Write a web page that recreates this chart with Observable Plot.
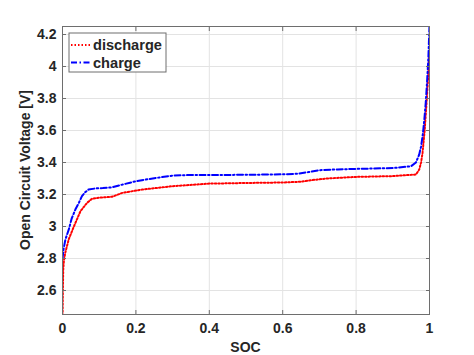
<!DOCTYPE html>
<html><head><meta charset="utf-8">
<script src="https://cdn.jsdelivr.net/npm/d3@7"></script>
<script src="https://cdn.jsdelivr.net/npm/@observablehq/plot@0.6"></script>
<style>body{margin:0;background:#fff}</style>
</head><body><div id="chart"></div>
<script>
const chargeSoc = [0,0.003,0.008,0.017,0.025,0.035,0.045,0.053,0.062,0.071,0.09,0.11,0.135,0.16,0.2,0.25,0.3,0.35,0.4,0.5,0.6,0.64,0.67,0.7,0.75,0.8,0.9,0.95,0.963,0.972,0.977,0.982,0.986,0.99,0.994,0.997,1.0];
const chargeV = [2.80,2.86,2.92,2.98,3.05,3.106,3.15,3.19,3.215,3.231,3.238,3.24,3.245,3.26,3.283,3.302,3.318,3.322,3.322,3.323,3.326,3.33,3.34,3.352,3.357,3.36,3.365,3.377,3.40,3.45,3.50,3.58,3.67,3.78,3.93,4.06,4.26];
const dischargeSoc = [0,0.001,0.002,0.004,0.008,0.017,0.031,0.049,0.067,0.08,0.1,0.135,0.163,0.217,0.3,0.4,0.5,0.6,0.65,0.68,0.72,0.8,0.9,0.963,0.972,0.977,0.981,0.987,0.992,0.997,1.0];
const dischargeV = [2.40,2.60,2.73,2.79,2.84,2.92,3.00,3.096,3.148,3.173,3.18,3.186,3.21,3.231,3.252,3.268,3.272,3.275,3.28,3.29,3.30,3.31,3.315,3.325,3.356,3.40,3.46,3.606,3.775,3.96,4.09];
const xTicks = [0,0.2,0.4,0.6,0.8,1];
const yTicks = [2.6,2.8,3,3.2,3.4,3.6,3.8,4,4.2];
const seriesNames = ["discharge","charge"];
const xLabel = "SOC";
const yLabel = "Open Circuit Voltage [V]";

const charge = chargeSoc.map((s,i)=>({soc:s, v:chargeV[i]}));
const discharge = dischargeSoc.map((s,i)=>({soc:s, v:dischargeV[i]}));

const RED = "#ff0000", BLUE = "#0000ff", TXT = "#262626";
const RED_DASH = "1.5,2", BLUE_DASH = "6,2.5,1.5,2.5";
const yFmt = d => (Math.round(d*10)/10).toString();

const plot = Plot.plot({
  width: 474, height: 355,
  marginLeft: 62, marginRight: 45, marginTop: 26, marginBottom: 41,
  style: {fontFamily: "'Liberation Sans', Arial, sans-serif", fontSize: "14px", fontWeight: "bold", color: TXT, background: "#fff"},
  x: {domain: [0,1]},
  y: {domain: [2.45,4.25]},
  marks: [
    Plot.gridX(xTicks, {stroke: "#e3e3e3", strokeOpacity: 1}),
    Plot.gridY(yTicks, {stroke: "#e3e3e3", strokeOpacity: 1}),
    Plot.line(discharge, {x: "soc", y: "v", stroke: RED, strokeWidth: 2, strokeDasharray: RED_DASH, clip: true}),
    Plot.line(charge, {x: "soc", y: "v", stroke: BLUE, strokeWidth: 2, strokeDasharray: BLUE_DASH, clip: true}),
    Plot.frame({stroke: "#6e6e6e"}),
    Plot.axisX(xTicks, {anchor: "bottom", tickSize: 0, tickPadding: 9, label: null, tickFormat: d => String(d), fill: TXT}),
    Plot.axisX(xTicks, {anchor: "bottom", tickSize: -4, tickFormat: () => "", label: null, stroke: "#6e6e6e"}),
    Plot.axisX(xTicks, {anchor: "top", tickSize: -4, tickFormat: () => "", label: null, stroke: "#6e6e6e"}),
    Plot.axisY(yTicks, {anchor: "left", tickSize: 0, tickPadding: 6, label: null, tickFormat: yFmt, fill: TXT}),
    Plot.axisY(yTicks, {anchor: "left", tickSize: -4, tickFormat: () => "", label: null, stroke: "#6e6e6e"}),
    Plot.axisY(yTicks, {anchor: "right", tickSize: -4, tickFormat: () => "", label: null, stroke: "#6e6e6e"})
  ]
});

const svg = d3.select(plot);
// axis titles
svg.append("text").attr("x", 245.5).attr("y", 352).attr("text-anchor","middle")
  .attr("fill", TXT).style("font-size","14px").style("font-weight","bold").text(xLabel);
svg.append("text").attr("transform","translate(30,170) rotate(-90)").attr("text-anchor","middle")
  .attr("fill", TXT).style("font-size","14px").style("font-weight","bold").text(yLabel);
// legend
const lg = svg.append("g").attr("text-anchor","start");
lg.append("rect").attr("x",69).attr("y",33).attr("width",97).attr("height",39)
  .attr("fill","#fff").attr("stroke","#6e6e6e").attr("stroke-width",1);
const styles = [{stroke: RED, dash: RED_DASH}, {stroke: BLUE, dash: BLUE_DASH}];
seriesNames.forEach((n,i)=>{
  const y = 45 + i*17.5;
  lg.append("line").attr("x1",71).attr("x2",92).attr("y1",y).attr("y2",y)
    .attr("stroke",styles[i].stroke).attr("stroke-width",2).attr("stroke-dasharray",styles[i].dash);
  lg.append("text").attr("x",93).attr("y",y).attr("dy","0.35em").attr("fill",TXT).attr("text-anchor","start")
    .style("font-size","14.6px").style("font-weight","bold").text(n);
});
document.getElementById("chart").appendChild(plot);
</script>
</body></html>
